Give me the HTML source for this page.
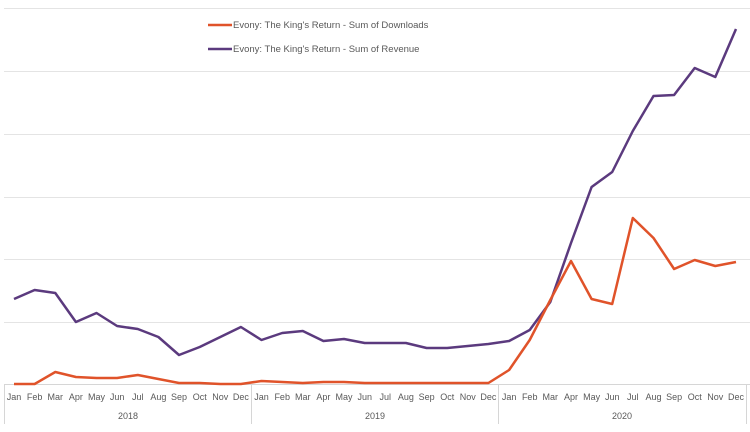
<!DOCTYPE html>
<html><head><meta charset="utf-8"><style>
body{margin:0;background:#fff;}
svg{display:block;font-family:"Liberation Sans",sans-serif;}
</style></head><body>
<svg width="750" height="432" viewBox="0 0 750 432" xmlns="http://www.w3.org/2000/svg">
<g stroke="#e4e4e4" stroke-width="1">
<line x1="4" x2="750" y1="8.5" y2="8.5"/>
<line x1="4" x2="750" y1="71.5" y2="71.5"/>
<line x1="4" x2="750" y1="134.5" y2="134.5"/>
<line x1="4" x2="750" y1="197.5" y2="197.5"/>
<line x1="4" x2="750" y1="259.5" y2="259.5"/>
<line x1="4" x2="750" y1="322.5" y2="322.5"/>
</g>
<g stroke="#d6d6d6" stroke-width="1">
<line x1="4" x2="750" y1="384.5" y2="384.5"/>
<line x1="4.5" x2="4.5" y1="384" y2="424"/>
<line x1="251.5" x2="251.5" y1="384" y2="424"/>
<line x1="498.5" x2="498.5" y1="384" y2="424"/>
<line x1="746.5" x2="746.5" y1="384" y2="424"/>
</g>
<polyline fill="none" stroke="#5b3a7e" stroke-width="2.5" stroke-linejoin="round" points="14,299 34.6,290 55.3,293 75.9,322 96.5,313 117.1,326 137.8,329 158.4,337 179,355 199.7,347 220.3,337 240.9,327 261.5,340 282.2,333 302.8,331 323.4,341 344,339 364.7,343 385.3,343 405.9,343 426.6,348 447.2,348 467.8,346 488.4,344 509.1,341 529.7,330 550.3,302 571,243 591.6,187 612.2,172 632.8,131 653.5,96 674.1,95 694.7,68 715.3,77 736,29"/>
<polyline fill="none" stroke="#e0532a" stroke-width="2.5" stroke-linejoin="round" points="14,384 34.6,384 55.3,372 75.9,377 96.5,378 117.1,378 137.8,375 158.4,379 179,383 199.7,383 220.3,384 240.9,384 261.5,381 282.2,382 302.8,383 323.4,382 344,382 364.7,383 385.3,383 405.9,383 426.6,383 447.2,383 467.8,383 488.4,383 509.1,370 529.7,340 550.3,300 571,261 591.6,299 612.2,304 632.8,218 653.5,238 674.1,269 694.7,260 715.3,266 736,262"/>
<line x1="208" x2="232" y1="25" y2="25" stroke="#e0532a" stroke-width="2.5"/>
<line x1="208" x2="232" y1="49" y2="49" stroke="#5b3a7e" stroke-width="2.5"/>
<g font-size="9.5" fill="#595959">
<text x="233" y="28">Evony: The King's Return - Sum of Downloads</text>
<text x="233" y="52">Evony: The King's Return - Sum of Revenue</text>
</g>
<g font-size="9" fill="#595959" text-anchor="middle">
<text x="14" y="400">Jan</text><text x="34.6" y="400">Feb</text><text x="55.3" y="400">Mar</text><text x="75.9" y="400">Apr</text><text x="96.5" y="400">May</text><text x="117.1" y="400">Jun</text><text x="137.8" y="400">Jul</text><text x="158.4" y="400">Aug</text><text x="179" y="400">Sep</text><text x="199.7" y="400">Oct</text><text x="220.3" y="400">Nov</text><text x="240.9" y="400">Dec</text>
<text x="261.5" y="400">Jan</text><text x="282.2" y="400">Feb</text><text x="302.8" y="400">Mar</text><text x="323.4" y="400">Apr</text><text x="344" y="400">May</text><text x="364.7" y="400">Jun</text><text x="385.3" y="400">Jul</text><text x="405.9" y="400">Aug</text><text x="426.6" y="400">Sep</text><text x="447.2" y="400">Oct</text><text x="467.8" y="400">Nov</text><text x="488.4" y="400">Dec</text>
<text x="509.1" y="400">Jan</text><text x="529.7" y="400">Feb</text><text x="550.3" y="400">Mar</text><text x="571" y="400">Apr</text><text x="591.6" y="400">May</text><text x="612.2" y="400">Jun</text><text x="632.8" y="400">Jul</text><text x="653.5" y="400">Aug</text><text x="674.1" y="400">Sep</text><text x="694.7" y="400">Oct</text><text x="715.3" y="400">Nov</text><text x="736" y="400">Dec</text>
<text x="128" y="419">2018</text><text x="375" y="419">2019</text><text x="622" y="419">2020</text>
</g>
</svg>
</body></html>
